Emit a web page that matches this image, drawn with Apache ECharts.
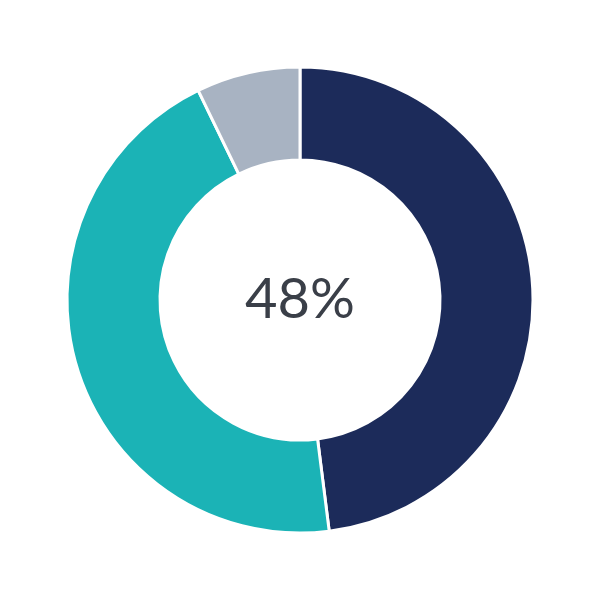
<!DOCTYPE html>
<html><head><meta charset="utf-8">
<script src="https://cdn.jsdelivr.net/npm/echarts@6/dist/echarts.min.js"></script>
<style>html,body{margin:0;padding:0;background:#fff}#c{width:600px;height:600px}</style>
</head><body><div id="c"></div>
<script>
const categories = ['A', 'B', 'C'];
const values = [48, 44.8, 7.2];
const colors = ['#1c2b5a', '#1bb3b6', '#a8b3c2'];
const centerLabel = '48%';

const chart = echarts.init(document.getElementById('c'), null, {renderer: 'canvas'});
chart.setOption({
  animation: false,
  backgroundColor: '#ffffff',
  title: {
    text: centerLabel, left: 'center', top: 'middle',
    textStyle: {fontFamily: 'Lato', fontWeight: 'normal', fontSize: 56, color: '#3a3f48'}
  },
  series: [{
    type: 'pie',
    center: ['50%', '50%'],
    radius: [140, 233],
    startAngle: 90,
    clockwise: true,
    label: {show: false},
    labelLine: {show: false},
    itemStyle: {borderColor: '#ffffff', borderWidth: 3},
    data: categories.map((c, i) => ({name: c, value: values[i], itemStyle: {color: colors[i]}}))
  }]
});
</script></body></html>
